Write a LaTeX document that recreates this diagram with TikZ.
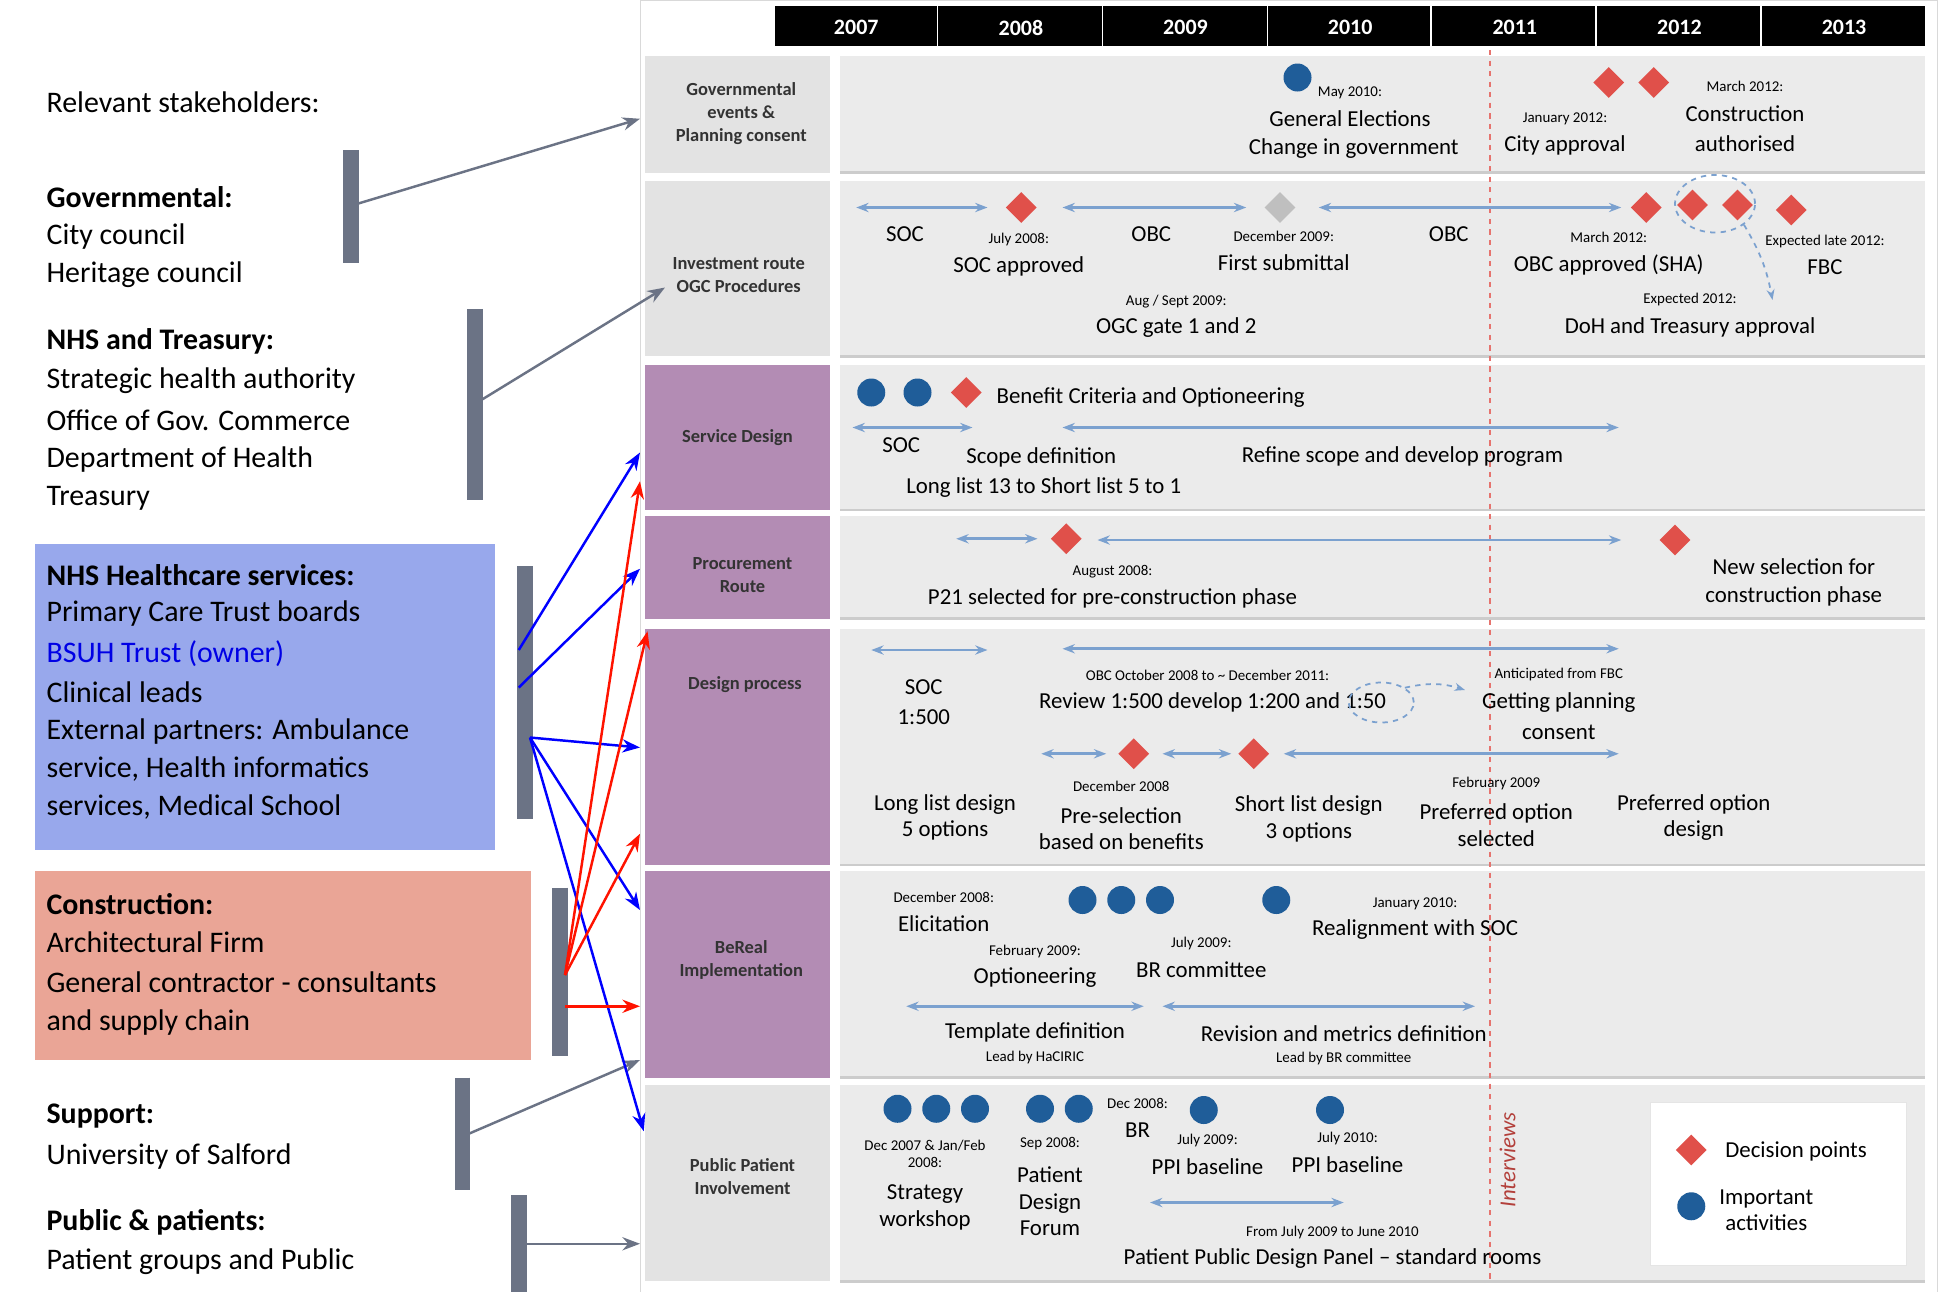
\documentclass[tikz,border=0pt]{standalone}
\usepackage{fontspec}
\setmainfont{Carlito}
\usetikzlibrary{positioning,calc,shapes.geometric,arrows.meta}
\definecolor{rowgray}{HTML}{EBEBEB}
\definecolor{labgray}{HTML}{E3E3E3}
\definecolor{rowpurple}{HTML}{B38CB4}
\definecolor{mkred}{HTML}{E0504A}
\definecolor{mkblue}{HTML}{1F5D99}
\definecolor{arrblue}{HTML}{7BA1CF}
\definecolor{bargray}{HTML}{6B7385}
\definecolor{boxblue}{HTML}{98A8EC}
\definecolor{boxred}{HTML}{EAA596}
\tikzset{
  big/.style={font=\fontsize{17}{20}\selectfont, anchor=west, inner sep=0pt},
  hd/.style={big, font=\fontsize{17}{20}\selectfont\bfseries},
  med/.style={font=\fontsize{13}{15}\selectfont, inner sep=0pt},
  tiny/.style={font=\fontsize{8.5}{10}\selectfont, inner sep=0pt},
  lab/.style={font=\fontsize{10.5}{13}\selectfont\bfseries, align=center, text=black!80},
  dec/.style={diamond, fill=mkred, minimum size=0.62cm, inner sep=0pt},
  act/.style={circle, fill=mkblue, minimum size=0.56cm, inner sep=0pt},
  span/.style={arrblue, line width=1.6pt, {Stealth[length=7pt]}-{Stealth[length=7pt]}},
  feed/.style={line width=1.4pt, -{Stealth[length=10pt]}},
  bar/.style={bargray, line width=9pt},
  yr/.style={font=\fontsize{12.5}{15}\selectfont\bfseries, text=white},
}
\begin{document}
\begin{tikzpicture}[x=0.025cm, y=-0.025cm]
\useasboundingbox (0,0) rectangle (1560.8,1032.8);
% panel and year bar
\draw[black!15, fill=white] (512,0) rectangle (1550,1034);
\fill (620,5) rectangle (1540,37);
\foreach \y [count=\i from 0] in {2007,...,2013}
  \node[yr] (y\y) at (685+131.7*\i,22) {\y};
\foreach \x in {750,882,1014,1145,1277,1409} \draw[white, line width=1pt] (\x,5) -- (\x,37);
% rows
\foreach \a/\b/\c [count=\r] in {45/138/labgray,145/285/labgray,292/408/rowpurple,413/495/rowpurple,503/692/rowpurple,697/862/rowpurple,868/1025/labgray}{
  \fill[\c] (516,\a) rectangle (664,\b);
  \fill[rowgray] (672,\a) rectangle (1540,\b);
  \draw[black!20, line width=1.5pt] (672,\b) -- (1540,\b);
}
\node[lab] (l1) at (593,91) {Governmental\\events \&\\Planning consent};
\node[lab] (l2) at (591,220) {Investment route\\OGC Procedures};
\node[lab] (l3) at (590,350) {Service Design};
\node[lab] (l4) at (594,460) {Procurement\\Route};
\node[lab] (l5) at (596,548) {Design process};
\node[lab] (l6) at (593,768) {BeReal\\Implementation};
\node[lab] (l7) at (594,941) {Public Patient\\Involvement};
\draw[mkred!80, dashed, line width=1pt] (1192,40) -- (1192,1025);
% row 1
\node[act] (c1) at (1038,62) {};
\node[dec] (d1) at (1287,66) {}; \node[dec] (d2) at (1323,66) {};
\node[tiny] at (1080,74) {May 2010:};
\node[med] at (1080,95) {General Elections};
\node[med] at (1083,119) {Change in government};
\node[tiny] at (1252,95) {January 2012:};
\node[med] at (1252,116) {City approval};
\node[tiny] at (1396,69) {March 2012:};
\node[med] at (1396,91) {Construction};
\node[med] at (1396,115) {authorised};
% row 2
\coordinate (a1) at (685,166); \coordinate (a2) at (790,166);
\coordinate (a3) at (850,166); \coordinate (a4) at (997,166);
\coordinate (a5) at (1055,166); \coordinate (a6) at (1297,166);
\draw[span] (a1) -- (a2); \draw[span] (a3) -- (a4); \draw[span] (a5) -- (a6);
\node[dec] at (817,166) {};
\node[dec, fill=black!25] at (1024,166) {};
\foreach \x/\y in {1317/166,1354/164,1390/164,1433/168} \node[dec] at (\x,\y) {};
\node[ellipse, draw=arrblue, dashed, line width=1pt, minimum width=1.6cm, minimum height=1.15cm] (ov) at (1372,163) {};
\coordinate (fbc) at (1418,240);
\draw[arrblue, dashed, line width=1pt, -{Stealth[length=6pt]}] (ov.south east) to[bend left=10] (fbc);
\node[med] at (724,187) {SOC};
\node[tiny] at (815,192) {July 2008:};
\node[med] at (815,213) {SOC approved};
\node[med] at (921,187) {OBC};
\node[tiny] at (1027,189) {December 2009:};
\node[med] at (1027,210) {First submittal};
\node[med] at (1159,187) {OBC};
\node[tiny] at (1287,190) {March 2012:};
\node[med] at (1287,212) {OBC approved (SHA)};
\node[tiny] at (1460,193) {Expected late 2012:};
\node[med] at (1460,214) {FBC};
\node[tiny] at (941,241) {Aug / Sept 2009:};
\node[med] at (941,262) {OGC gate 1 and 2};
\node[tiny] at (1352,240) {Expected 2012:};
\node[med] at (1352,262) {DoH and Treasury approval};
% row 3
\node[act] at (697,314) {}; \node[act] at (734,314) {};
\node[dec] at (773,314) {};
\node[med, anchor=west] at (797,318) {Benefit Criteria and Optioneering};
\coordinate (b1) at (682,342); \coordinate (b2) at (778,342);
\coordinate (b3) at (850,342); \coordinate (b4) at (1295,342);
\draw[span] (b1) -- (b2); \draw[span] (b3) -- (b4);
\node[med] at (721,356) {SOC};
\node[med] at (833,366) {Scope definition};
\node[med] at (1122,365) {Refine scope and develop program};
\node[med] at (835,390) {Long list 13 to Short list 5 to 1};
% row 4
\coordinate (p1) at (765,431); \coordinate (p2) at (830,431);
\coordinate (p3) at (878,432); \coordinate (p4) at (1297,432);
\draw[span] (p1) -- (p2); \draw[span] (p3) -- (p4);
\node[dec] at (853,431) {}; \node[dec] at (1340,432) {};
\node[tiny] at (890,457) {August 2008:};
\node[med] at (890,479) {P21 selected for pre-construction phase};
\node[med] at (1435,453) {New selection for};
\node[med] at (1435,477) {construction phase};
% row 5
\coordinate (e1) at (697,520); \coordinate (e2) at (790,520);
\coordinate (e3) at (850,519); \coordinate (e4) at (1295,519);
\coordinate (e5) at (833,603); \coordinate (e6) at (885,603);
\coordinate (e7) at (930,603); \coordinate (e8) at (985,603);
\coordinate (e9) at (1027,603); \coordinate (e10) at (1295,603);
\foreach \s/\t in {e1/e2,e3/e4,e5/e6,e7/e8,e9/e10} \draw[span] (\s) -- (\t);
\node[dec] at (907,603) {}; \node[dec] at (1003,603) {};
\node[med] at (739,550) {SOC};
\node[med] at (739,574) {1:500};
\node[tiny] at (966,540) {OBC October 2008 to \textasciitilde{} December 2011:};
\node[med] at (970,562) {Review 1:500 develop 1:200 and 1:50};
\node[ellipse, draw=arrblue, dashed, line width=1pt, minimum width=1.3cm, minimum height=0.8cm] (r50) at (1105,562) {};
\coordinate (gp) at (1172,552);
\draw[arrblue, dashed, line width=1pt, -{Stealth[length=6pt]}] (r50.north east) to[bend left=15] (gp);
\node[tiny] at (1247,540) {Anticipated from FBC};
\node[med] at (1247,562) {Getting planning};
\node[med] at (1247,586) {consent};
\node[med, align=center] at (756,654) {Long list design\\5 options};
\node[tiny] at (897,629) {December 2008};
\node[med, align=center] at (897,663) {Pre-selection\\based on benefits};
\node[med, align=center] at (1047,655) {Short list design\\3 options};
\node[tiny] at (1197,627) {February 2009};
\node[med, align=center] at (1197,660) {Preferred option\\selected};
\node[med, align=center] at (1355,654) {Preferred option\\design};
% row 6
\foreach \x in {866,897,928,1021} \node[act] at (\x,720) {};
\node[tiny] at (755,718) {December 2008:};
\node[med] at (755,739) {Elicitation};
\node[tiny] at (1132,723) {January 2010:};
\node[med] at (1132,744) {Realignment with SOC};
\node[tiny] at (828,761) {February 2009:};
\node[med] at (828,782) {Optioneering};
\node[tiny] at (961,755) {July 2009:};
\node[med] at (961,776) {BR committee};
\coordinate (t1) at (725,805); \coordinate (t2) at (915,805);
\coordinate (t3) at (930,805); \coordinate (t4) at (1180,805);
\draw[span] (t1) -- (t2); \draw[span] (t3) -- (t4);
\node[med] at (828,826) {Template definition};
\node[tiny] at (828,846) {Lead by HaCIRIC};
\node[med] at (1075,827) {Revision and metrics definition};
\node[tiny] at (1075,847) {Lead by BR committee};
% row 7
\foreach \x in {718,749,780,832,863} \node[act] at (\x,887) {};
\node[act] at (963,888) {}; \node[act] at (1064,888) {};
\node[tiny, align=center] at (740,923) {Dec 2007 \& Jan/Feb\\2008:};
\node[med, align=center] at (740,966) {Strategy\\workshop};
\node[tiny] at (840,915) {Sep 2008:};
\node[med, align=center] at (840,961) {Patient\\Design\\Forum};
\node[tiny] at (910,883) {Dec 2008:};
\node[med] at (910,904) {BR};
\node[tiny] at (966,912) {July 2009:};
\node[med] at (966,933) {PPI baseline};
\node[tiny] at (1078,911) {July 2010:};
\node[med] at (1078,932) {PPI baseline};
\coordinate (u1) at (920,962); \coordinate (u2) at (1075,962);
\draw[span] (u1) -- (u2);
\node[tiny] at (1066,986) {From July 2009 to June 2010};
\node[med] at (1066,1007) {Patient Public Design Panel -- standard rooms};
\node[med, rotate=90, text=mkred!80!black, font=\fontsize{13}{15}\selectfont\itshape] at (1206,928) {Interviews};
% legend
\draw[black!10, fill=white] (1320,882) rectangle (1525,1012);
\node[dec] (ld) at (1353,920) {};
\node[med, anchor=west] at (1380,921) {Decision points};
\node[act] (la) at (1353,965) {};
\node[med, align=center] at (1413,968) {Important\\activities};
% left side
\node[big] (rs) at (37,82) {Relevant stakeholders:};
\node[hd] (g) at (37,158) {Governmental:};
\node[big] at (37,189) {City council};
\node[big] at (37,220) {Heritage council};
\node[hd] (nt) at (37,273) {NHS and Treasury:};
\foreach \t [count=\i] in {Strategic health authority,Office of Gov. Commerce,Department of Health,Treasury}
  \node[big] at (37,273+31.5*\i) {\t};
\fill[boxblue] (28,435) rectangle (396,680);
\node[hd] (nh) at (37,460) {NHS Healthcare services:};
\node[big] at (37,491) {Primary Care Trust boards};
\node[big, text=blue!90!black] at (37,523) {BSUH Trust (owner)};
\node[big] at (37,554) {Clinical leads};
\node[big] at (37,585) {External partners: Ambulance};
\node[big] at (37,615) {service, Health informatics};
\node[big] at (37,646) {services, Medical School};
\fill[boxred] (28,697) rectangle (425,848);
\node[hd] (co) at (37,723) {Construction:};
\node[big] at (37,754) {Architectural Firm};
\node[big] at (37,786) {General contractor - consultants};
\node[big] at (37,818) {and supply chain};
\node[hd] (su) at (37,893) {Support:};
\node[big] at (37,925) {University of Salford};
\node[hd] (pp) at (37,978) {Public \& patients:};
\node[big] at (37,1009) {Patient groups and Public};
% bars
\foreach \x/\a/\b in {281/120/210,380/247/400,420/453/655,448/710/845,370/862/952,415/956/1035}
  \draw[bar] (\x,\a) -- (\x,\b);
% stakeholder links
\coordinate (sg) at (286,163); \coordinate (sn) at (385,320);
\coordinate (ss) at (375,907); \coordinate (sp) at (420,995);
\draw[feed, bargray] (sg) -- (512,95);
\draw[feed, bargray] (sn) -- (532,230);
\draw[feed, bargray] (ss) -- (512,848);
\draw[feed, bargray] (sp) -- (512,995);
\coordinate (hb1) at (415,520); \coordinate (hb2) at (415,550);
\coordinate (hb3) at (424,590); \coordinate (cr1) at (452,780);
\coordinate (cr2) at (452,805);
\draw[feed, blue] (hb1) -- (512,362);
\draw[feed, blue] (hb2) -- (512,455);
\draw[feed, blue] (hb3) -- (512,598);
\draw[feed, blue] (hb3) -- (512,728);
\draw[feed, blue] (hb3) -- (515,905);
\draw[feed, red!85!orange] (cr1) -- (512,385);
\draw[feed, red!85!orange] (cr1) -- (518,505);
\draw[feed, red!85!orange] (cr1) -- (512,667);
\draw[feed, red!85!orange] (cr2) -- (512,805);
\end{tikzpicture}
\end{document}
